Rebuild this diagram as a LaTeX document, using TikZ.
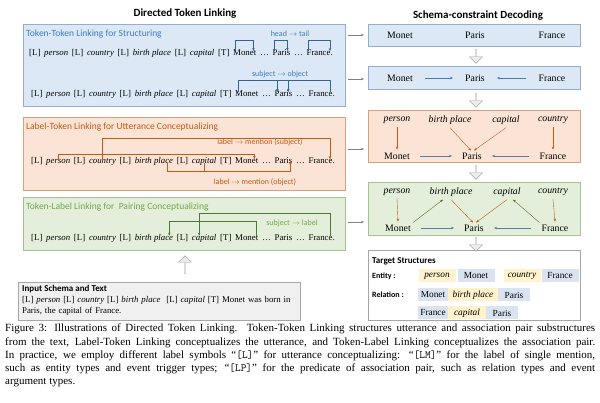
\documentclass[tikz,border=0pt]{standalone}
\usepackage{fontspec}
\setmainfont{Liberation Serif}
\newfontfamily\hdfont{Carlito}
\usetikzlibrary{shapes.arrows,arrows.meta}
\definecolor{bfill}{HTML}{DCE8F5}\definecolor{bdraw}{HTML}{93AECF}\definecolor{btext}{HTML}{3E7CC0}
\definecolor{ofill}{HTML}{FBE4D5}\definecolor{odraw}{HTML}{D9A07E}\definecolor{otext}{HTML}{C55A11}
\definecolor{gfill}{HTML}{E3EFDA}\definecolor{gdraw}{HTML}{A3C48F}\definecolor{gtext}{HTML}{6FAA46}
\definecolor{yfill}{HTML}{FFF2CC}\definecolor{tfill}{HTML}{DAE3F0}
\newcommand\tokrow[4]{%
\node[tok] (#1a) at (#2,#3) {[L]};
\node[tok] (#1per) at ([xshift=#4]#1a.base east) {\textit{person}};
\node[tok] (#1b) at ([xshift=#4]#1per.base east) {[L]};
\node[tok] (#1cou) at ([xshift=#4]#1b.base east) {\textit{country}};
\node[tok] (#1c) at ([xshift=#4]#1cou.base east) {[L]};
\node[tok] (#1bir) at ([xshift=#4]#1c.base east) {\textit{birth place}};
\node[tok] (#1d) at ([xshift=#4]#1bir.base east) {[L]};
\node[tok] (#1cap) at ([xshift=#4]#1d.base east) {\textit{capital}};
\node[tok] (#1t) at ([xshift=#4]#1cap.base east) {[T]};
\node[tok] (#1mon) at ([xshift=#4]#1t.base east) {Monet};
\node[tok] (#1e1) at ([xshift=#4]#1mon.base east) {\dots};
\node[tok] (#1par) at ([xshift=#4]#1e1.base east) {Paris};
\node[tok] (#1e2) at ([xshift=#4]#1par.base east) {\dots};
\node[tok] (#1fra) at ([xshift=#4]#1e2.base east) {France.};}
\tikzset{
 tok/.style={anchor=base west,inner sep=0pt,font=\fontsize{8.8}{10}\selectfont},
 lnk/.style={line width=0.5pt,-{Stealth[length=3pt,width=2.5pt]}},
 hd/.style={font=\hdfont\bfseries\fontsize{11}{12}\selectfont},
 bt/.style={anchor=west,inner sep=0pt,font=\hdfont\fontsize{9.5}{10}\selectfont},
 lb/.style={inner sep=0pt,font=\hdfont\fontsize{8}{8}\selectfont},
 ent/.style={inner sep=0pt,font=\fontsize{9.8}{10}\selectfont},
 small/.style={line width=0.4pt,-{Stealth[length=3pt,width=2.5pt]}},
 garr/.style={single arrow,draw=gray!70,fill=gray!15,minimum height=18pt,minimum width=13pt,single arrow head extend=2.5pt,inner sep=0pt},
 tag/.style={inner sep=0pt,minimum height=13pt,font=\fontsize{9.3}{9}\selectfont},
}
\begin{document}
\begin{tikzpicture}[x=1pt,y=-1pt]
\path[use as bounding box] (0,0) rectangle (600,403);
\node[hd] (h1) at (185,14) {Directed Token Linking};
\node[hd] (h2) at (478,16) {Schema-constraint Decoding};
% left boxes
\draw[bdraw,fill=bfill] (23,24) rectangle (345,106);
\draw[odraw,fill=ofill] (23,117) rectangle (345,190);
\draw[gdraw,fill=gfill] (23,197) rectangle (345,250);
\node[bt,text=btext] (t1) at (26,34) {Token-Token Linking for Structuring};
\node[bt,text=otext] (t2) at (26,127) {Label-Token Linking for Utterance Conceptualizing};
\node[bt,text=gtext] (t3) at (26,207) {Token-Label Linking for \ Pairing Conceptualizing};
\tokrow{r}{29}{56}{3.4pt}
\tokrow{s}{31}{97}{3.4pt}
\tokrow{o}{31}{164}{3.4pt}
\tokrow{g}{31}{241}{3.4pt}
% row1 head->tail
\foreach \w in {rmon,rpar,rfra}{
 \draw[lnk,btext!80!black] ([xshift=2pt,yshift=-1pt]\w.north west) -- ++(0,-11) -| ([xshift=-3pt,yshift=-1pt]\w.north east);}
\node[lb,text=btext] (l1) at (290,34) {head $\rightarrow$ tail};
% row2
\draw[lnk,btext!80!black] ([xshift=3pt,yshift=-1pt]smon.north west) -- ++(0,-12) -| ([xshift=-4pt,yshift=-1pt]spar.north east);
\draw[lnk,btext!80!black] ([xshift=-5pt,yshift=-1pt]sfra.north east) -- ++(0,-12) -| ([xshift=3pt,yshift=-1pt]spar.north west);
\node[lb,text=btext] (l2) at (280,74) {subject $\rightarrow$ object};
% orange
\draw[lnk,otext] ([yshift=-1pt]oper.north) -- ++(0,-6) -| ([xshift=-4pt,yshift=-1pt]omon.north east);
\draw[lnk,otext] ([yshift=-1pt]ocou.north) -- ++(0,-22) -| ([xshift=-5pt,yshift=-1pt]ofra.north east);
\node[lb,text=otext] (l3) at (260,142) {label $\rightarrow$ mention (subject)};
\draw[lnk,otext] ([xshift=-6pt,yshift=3pt]obir.south east) -- ++(0,8) -| ([xshift=-2pt,yshift=3pt]opar.south east);
\draw[otext,line width=0.5pt] ([yshift=3pt]ocap.south) -- ++(0,8);
\node[lb,text=otext] (l4) at (255,182) {label $\rightarrow$ mention (object)};
% green
\draw[lnk,gtext!70!black] ([xshift=-2pt,yshift=-1pt]gmon.north east) -- ++(0,-15) -| ([xshift=-4pt,yshift=-1pt]gbir.north east);
\draw[lnk,gtext!70!black] ([xshift=-5pt,yshift=-1pt]gfra.north east) -- ++(0,-23) -| ([xshift=-5pt,yshift=-1pt]gcap.north);
\node[lb,text=gtext] (l5) at (292,223) {subject $\rightarrow$ label};
% up arrow & input box
\node[garr,shape border rotate=90] (ua) at (185,265) {};
\draw[gray!70,fill=gray!12] (18,282) rectangle (300,320);
\node[bt,font=\hdfont\bfseries\fontsize{9}{9}\selectfont] (inh) at (22,289) {Input Schema and Text};
\node[anchor=north west,inner sep=0pt,text width=276pt,font=\fontsize{8.8}{11.5}\selectfont] (inp) at (22,296) {[L] \textit{person} [L] \textit{country} [L] \textit{birth place}\ \ [L] \textit{capital} [T] Monet was born in Paris, the capital of\ France.};
% right boxes
\draw[bdraw,fill=bfill] (368,24) rectangle (580,46);
\draw[bdraw,fill=bfill] (368,66) rectangle (580,89);
\draw[odraw,fill=ofill] (368,110) rectangle (580,162);
\draw[gdraw,fill=gfill] (368,182) rectangle (580,235);
\draw[gray!70,fill=white] (368,250) rectangle (580,320);
\foreach \yy in {56,100,172,244}{\node[garr,shape border rotate=270,minimum height=14pt] at (476,\yy) {};}
% connectors from left boxes
\foreach \ya/\yb in {35/35,79/79,149/149,222/222}{\draw[small,gray] (348,\ya) -- (364,\yb);}
% box1
\node[ent] (a1) at (400,35) {Monet};\node[ent] (a2) at (475,35) {Paris};\node[ent] (a3) at (552,35) {France};
% box2
\node[ent] (b1) at (400,78) {Monet};\node[ent] (b2) at (475,78) {Paris};\node[ent] (b3) at (552,78) {France};
\draw[small,btext] ([xshift=12pt]b1.east) -- ([xshift=-12pt]b2.west);
\draw[small,btext] ([xshift=-12pt]b3.west) -- ([xshift=12pt]b2.east);
% box3
\node[ent] (c1) at (397,120) {\textit{person}};\node[ent] (c2) at (450,120) {\textit{birth place}};
\node[ent] (c3) at (506,120) {\textit{capital}};\node[ent] (c4) at (553,120) {\textit{country}};
\node[ent] (c5) at (397,156) {Monet};\node[ent] (c6) at (472,156) {Paris};\node[ent] (c7) at (553,156) {France};
\draw[small,otext] ([yshift=-3pt]c1.south) -- ([yshift=3pt]c5.north);
\draw[small,otext] ([yshift=-3pt]c4.south) -- ([yshift=3pt]c7.north);
\draw[small,otext] ([yshift=-3pt]c2.south) -- ([xshift=-1pt,yshift=2pt]c6.north);
\draw[small,otext] ([yshift=-3pt]c3.south) -- ([xshift=2pt,yshift=2pt]c6.north);
\draw[small,btext!60!gray] ([xshift=10pt]c5.east) -- ([xshift=-10pt]c6.west);
\draw[small,btext!60!gray] ([xshift=-10pt]c7.west) -- ([xshift=10pt]c6.east);
% box4
\node[ent] (d1) at (397,192) {\textit{person}};\node[ent] (d2) at (451,192) {\textit{birth place}};
\node[ent] (d3) at (507,192) {\textit{capital}};\node[ent] (d4) at (553,192) {\textit{country}};
\node[ent] (d5) at (398,228) {Monet};\node[ent] (d6) at (474,228) {Paris};\node[ent] (d7) at (555,228) {France};
\draw[small,otext] ([yshift=-3pt]d1.south) -- ([yshift=3pt]d5.north);
\draw[small,otext] ([yshift=-3pt]d4.south) -- ([yshift=3pt]d7.north);
\draw[small,otext] ([yshift=-3pt]d2.south) -- ([xshift=-1pt,yshift=2pt]d6.north);
\draw[small,otext] ([yshift=-3pt]d3.south) -- ([xshift=2pt,yshift=2pt]d6.north);
\draw[small,gtext!70!black] ([xshift=2pt,yshift=2pt]d5.north east) -- ([xshift=-8pt,yshift=-3pt]d2.south);
\draw[small,gtext!70!black] ([xshift=-2pt,yshift=2pt]d7.north west) -- ([xshift=6pt,yshift=-3pt]d3.south);
\draw[small,btext!60!gray] ([xshift=10pt]d5.east) -- ([xshift=-10pt]d6.west);
\draw[small,btext!60!gray] ([xshift=-10pt]d7.west) -- ([xshift=10pt]d6.east);
% target
\node[bt,font=\hdfont\bfseries\fontsize{9}{9}\selectfont] (ts) at (372,261) {Target Structures};
\node[bt,font=\hdfont\bfseries\fontsize{8}{8}\selectfont] (en) at (372,276) {Entity :};
\node[bt,font=\hdfont\bfseries\fontsize{8}{8}\selectfont] (re) at (372,295) {Relation :};
\node[tag,fill=yfill,minimum width=37pt] (e1) at (437,276) {\textit{person}};
\node[tag,fill=tfill,minimum width=37pt] (e2) at (476,276) {Monet};
\node[tag,fill=yfill,minimum width=37pt] (e3) at (522,276) {\textit{country}};
\node[tag,fill=tfill,minimum width=37pt] (e4) at (560,276) {France};
\node[tag,fill=tfill,minimum width=30pt] (r1) at (433,295) {Monet};
\node[tag,fill=yfill,minimum width=50pt] (r2) at (473,295) {\textit{birth place}};
\node[tag,fill=tfill,minimum width=32pt] (r3) at (514,295) {Paris};
\node[tag,fill=tfill,minimum width=30pt] (q1) at (433,313) {France};
\node[tag,fill=yfill,minimum width=38pt] (q2) at (467,313) {\textit{capital}};
\node[tag,fill=tfill,minimum width=32pt] (q3) at (502,313) {Paris};
% caption
\node[anchor=north west,inner sep=0pt,text width=590pt,align=justify,font=\fontsize{11}{13.2}\selectfont] (cap) at (5,324) {Figure 3: Illustrations of Directed Token Linking. Token-Token Linking structures utterance and association pair substructures from the text, Label-Token Linking conceptualizes the utterance, and Token-Label Linking conceptualizes the association pair. In practice, we employ different label symbols ``\texttt{[L]}'' for utterance conceptualizing: ``\texttt{[LM]}'' for the label of single mention,\linebreak such as entity types and event trigger types; ``\texttt{[LP]}'' for the predicate of association pair, such as relation types and event\linebreak argument types.};
\end{tikzpicture}
\end{document}
